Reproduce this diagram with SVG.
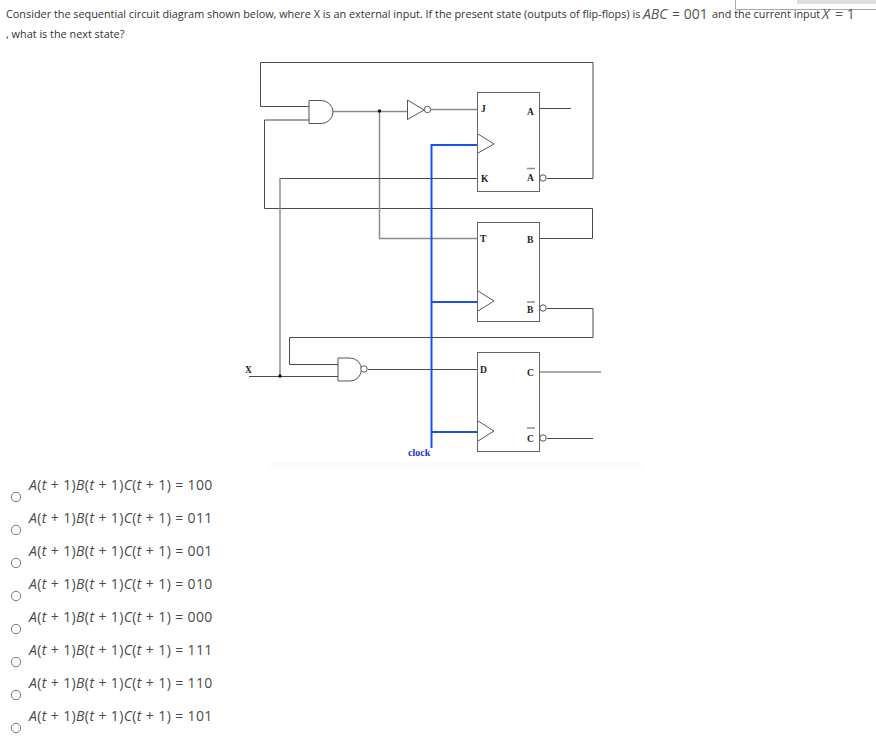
<svg xmlns="http://www.w3.org/2000/svg" width="876" height="743" viewBox="0 0 876 743">
<style>
.q{font:10.85px "Open Sans",sans-serif;fill:#333}
.m{font:italic 14px "Open Sans",sans-serif;fill:#555}
.n{font:14px "Open Sans",sans-serif;fill:#555}
.o{font-size:14px;font-family:"Open Sans",sans-serif;fill:#4a4a4a;letter-spacing:.38px}
.o .i{font-style:italic}
.l{font:bold 9.500px "Liberation Serif",serif;fill:#222}
.w{fill:none;stroke:#4a4a4a;stroke-width:1}
.g{fill:none;stroke:#8c8c8c;stroke-width:1.5}
.c{fill:none;stroke:#1a52e8;stroke-width:2}
.s{fill:#fff;stroke:#666;stroke-width:1}
.b{fill:#fff;stroke:#555;stroke-width:1}
.r{fill:#fff;stroke:#777;stroke-width:1}
</style>
<rect x="270" y="462" width="372" height="6" fill="#fbfbfb"/>
<g id="header-fragment"><path d="M735.500 0V9.500H876" fill="none" stroke="#aaa"/><rect x="797" y="0" width="79" height="4" fill="#ddd"/></g>
<g id="question">
<text class="q" x="6" y="18">Consider the sequential circuit diagram shown below, where X is an external input. If the present state (outputs of flip-flops) is</text>
<text class="m" x="643" y="19">ABC</text><text class="n" x="672" y="19">= 001</text>
<text class="q" x="712" y="18">and the current input</text>
<text class="m" x="822" y="19">X</text><text class="n" x="835" y="19">= 1</text>
<text class="q" x="6" y="38">, what is the next state?</text>
</g>
<g id="connectors">
<path class="w" d="M309 106.500H260.500V62.500H593V178.500H547"/>
<path class="w" d="M309 120H264.500V208.500H592.500V238.500H539"/>
<path class="g" d="M333 111.500H407"/>
<path class="g" d="M431 109.500H477"/>
<path class="g" d="M379.500 111V238.500H477"/>
<path class="w" d="M477 178.500H280"/>
<path class="g" d="M280 178V376"/>
<path class="w" d="M539 108.500H571"/>
<path class="w" d="M547 308.500H593V337.500H289.500V364.500H338"/>
<path class="w" d="M249 376.500H338"/>
<path class="w" d="M368 369.500H477"/>
<path class="g" d="M539 372H601"/>
<path class="w" d="M547 438.500H593"/>
<path class="c" d="M478 145H431.500V448M431.500 302H478M431.500 432H478"/>
<circle cx="379.500" cy="111" r="1.700" fill="#111"/>
<circle cx="280" cy="376" r="1.700" fill="#111"/>
</g>
<g id="and-gate"><path class="b" d="M309 100.500H321A12 11.500 0 0 1 321 123.500H309Z"/></g>
<g id="inverter"><path class="b" d="M407.500 100L424 110L407.500 119.500Z"/><circle class="b" cx="427.500" cy="109.500" r="3.200"/></g>
<g id="nand-gate"><path class="b" d="M338 358H350A11.500 11.500 0 0 1 350 381H338Z"/><circle class="b" cx="364" cy="369" r="3.200"/></g>
<g id="ff-a">
<rect class="s" x="477.500" y="92.500" width="62" height="99"/>
<path class="b" d="M478 134L494 144L478 153"/>
<text class="l" x="481" y="112">J</text><text class="l" x="527" y="115">A</text>
<text class="l" x="481" y="182">K</text><text class="l" x="527" y="181">A</text>
<path class="g" d="M527 168.500H535"/><circle class="b" cx="543" cy="178" r="3.200"/>
</g>
<g id="ff-b">
<rect class="s" x="477.500" y="222.500" width="62" height="99"/>
<path class="b" d="M478 291L494 301L478 311"/>
<text class="l" x="480" y="242">T</text><text class="l" x="527" y="243">B</text>
<text class="l" x="527" y="313">B</text>
<path class="g" d="M527 302H535"/><circle class="b" cx="543" cy="308" r="3.200"/>
</g>
<g id="ff-c">
<rect class="s" x="477.500" y="352.500" width="62" height="99"/>
<path class="b" d="M478 421L494 431L478 441"/>
<text class="l" x="480" y="373">D</text><text class="l" x="527" y="376">C</text>
<text class="l" x="527" y="442">C</text>
<path class="g" d="M527 428H535"/><circle class="b" cx="543" cy="438" r="3.200"/>
</g>
<text id="label-x" class="l" x="245" y="373">X</text>
<text id="label-clock" x="408" y="456" font-family="Liberation Serif,serif" font-weight="bold" font-size="10" fill="#1a2ee0">clock</text>
<g id="options">
<g><text class="o" x="29" y="490"><tspan class="i">A</tspan>(<tspan class="i">t</tspan> + 1)<tspan class="i">B</tspan>(<tspan class="i">t</tspan> + 1)<tspan class="i">C</tspan>(<tspan class="i">t</tspan> + 1) = 100</text><circle class="r" cx="16" cy="497" r="4.700"/></g>
<g><text class="o" x="29" y="523"><tspan class="i">A</tspan>(<tspan class="i">t</tspan> + 1)<tspan class="i">B</tspan>(<tspan class="i">t</tspan> + 1)<tspan class="i">C</tspan>(<tspan class="i">t</tspan> + 1) = 011</text><circle class="r" cx="16" cy="530" r="4.700"/></g>
<g><text class="o" x="29" y="556"><tspan class="i">A</tspan>(<tspan class="i">t</tspan> + 1)<tspan class="i">B</tspan>(<tspan class="i">t</tspan> + 1)<tspan class="i">C</tspan>(<tspan class="i">t</tspan> + 1) = 001</text><circle class="r" cx="16" cy="563" r="4.700"/></g>
<g><text class="o" x="29" y="589"><tspan class="i">A</tspan>(<tspan class="i">t</tspan> + 1)<tspan class="i">B</tspan>(<tspan class="i">t</tspan> + 1)<tspan class="i">C</tspan>(<tspan class="i">t</tspan> + 1) = 010</text><circle class="r" cx="16" cy="596" r="4.700"/></g>
<g><text class="o" x="29" y="622"><tspan class="i">A</tspan>(<tspan class="i">t</tspan> + 1)<tspan class="i">B</tspan>(<tspan class="i">t</tspan> + 1)<tspan class="i">C</tspan>(<tspan class="i">t</tspan> + 1) = 000</text><circle class="r" cx="16" cy="629" r="4.700"/></g>
<g><text class="o" x="29" y="655"><tspan class="i">A</tspan>(<tspan class="i">t</tspan> + 1)<tspan class="i">B</tspan>(<tspan class="i">t</tspan> + 1)<tspan class="i">C</tspan>(<tspan class="i">t</tspan> + 1) = 111</text><circle class="r" cx="16" cy="662" r="4.700"/></g>
<g><text class="o" x="29" y="688"><tspan class="i">A</tspan>(<tspan class="i">t</tspan> + 1)<tspan class="i">B</tspan>(<tspan class="i">t</tspan> + 1)<tspan class="i">C</tspan>(<tspan class="i">t</tspan> + 1) = 110</text><circle class="r" cx="16" cy="695" r="4.700"/></g>
<g><text class="o" x="29" y="721"><tspan class="i">A</tspan>(<tspan class="i">t</tspan> + 1)<tspan class="i">B</tspan>(<tspan class="i">t</tspan> + 1)<tspan class="i">C</tspan>(<tspan class="i">t</tspan> + 1) = 101</text><circle class="r" cx="16" cy="728" r="4.700"/></g>
</g>
</svg>
